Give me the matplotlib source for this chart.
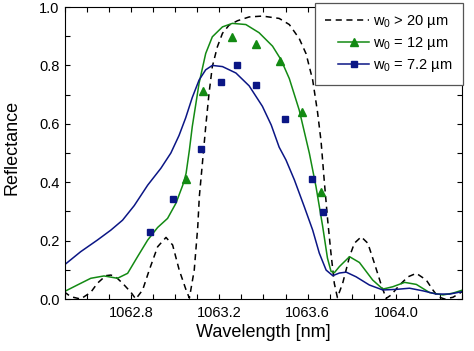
import matplotlib
matplotlib.use("Agg")
import matplotlib.pyplot as plt
from matplotlib.lines import Line2D
from matplotlib.legend_handler import HandlerLine2D
from matplotlib.ticker import MultipleLocator

plt.rcParams['font.family'] = ['Liberation Sans', 'DejaVu Sans']
plt.rcParams['mathtext.fontset'] = 'custom'
plt.rcParams['mathtext.rm'] = 'Liberation Sans'
plt.rcParams['mathtext.it'] = 'Liberation Sans:italic'

# ---- data ----
# w0 > 20 um (dashed)
wl_wide = [1062.496, 1062.526, 1062.571, 1062.617, 1062.647, 1062.685, 1062.708, 1062.730,
           1062.761, 1062.799, 1062.821, 1062.852, 1062.882, 1062.920, 1062.958, 1062.988,
           1063.018, 1063.049, 1063.064, 1063.086, 1063.102, 1063.109, 1063.123, 1063.138,
           1063.153, 1063.168, 1063.191, 1063.214, 1063.244, 1063.282, 1063.335, 1063.395,
           1063.471, 1063.517, 1063.562, 1063.593, 1063.623, 1063.645, 1063.661, 1063.676,
           1063.691, 1063.706, 1063.721, 1063.735, 1063.759, 1063.790, 1063.812, 1063.843,
           1063.873, 1063.903, 1063.934, 1063.956, 1063.979, 1064.017, 1064.055, 1064.093,
           1064.138, 1064.168, 1064.191, 1064.221, 1064.259, 1064.290, 1064.300]
r_wide = [0.025, 0.008, 0.0, 0.023, 0.054, 0.080, 0.082, 0.076,
          0.054, 0.023, 0.0, 0.031, 0.099, 0.179, 0.211, 0.185,
          0.099, 0.031, 0.003, 0.099, 0.248, 0.350, 0.465, 0.590,
          0.704, 0.796, 0.864, 0.910, 0.938, 0.953, 0.966, 0.969,
          0.961, 0.940, 0.892, 0.840, 0.750, 0.640, 0.540, 0.400,
          0.270, 0.156, 0.054, 0.005, 0.054, 0.145, 0.191, 0.213,
          0.191, 0.122, 0.048, 0.002, 0.014, 0.048, 0.076, 0.088,
          0.065, 0.031, 0.008, 0.0, 0.006, 0.020, 0.025]

# w0 = 12 um (green line)
wl_12 = [1062.496, 1062.556, 1062.617, 1062.677, 1062.738, 1062.784, 1062.829, 1062.875,
         1062.920, 1062.965, 1063.003, 1063.034, 1063.049, 1063.064, 1063.077, 1063.108,
         1063.138, 1063.168, 1063.214, 1063.259, 1063.320, 1063.380, 1063.441, 1063.479,
         1063.517, 1063.562, 1063.608, 1063.638, 1063.668, 1063.690, 1063.706, 1063.721,
         1063.744, 1063.790, 1063.835, 1063.895, 1063.941, 1063.986, 1064.040, 1064.093,
         1064.153, 1064.214, 1064.258, 1064.300]
r_12 = [0.025, 0.048, 0.071, 0.079, 0.071, 0.088, 0.145, 0.202,
        0.245, 0.276, 0.328, 0.390, 0.430, 0.510, 0.590, 0.739,
        0.841, 0.898, 0.932, 0.944, 0.940, 0.912, 0.866, 0.820,
        0.755, 0.647, 0.499, 0.385, 0.250, 0.140, 0.095, 0.090,
        0.111, 0.145, 0.125, 0.065, 0.034, 0.042, 0.057, 0.050,
        0.022, 0.014, 0.020, 0.030]

# w0 = 7.2 um (blue line)
wl_72 = [1062.496, 1062.571, 1062.647, 1062.708, 1062.761, 1062.814, 1062.875, 1062.935,
         1062.980, 1063.017, 1063.047, 1063.077, 1063.108, 1063.138, 1063.168, 1063.214,
         1063.275, 1063.335, 1063.395, 1063.435, 1063.471, 1063.502, 1063.540, 1063.585,
         1063.623, 1063.653, 1063.684, 1063.714, 1063.744, 1063.775, 1063.820, 1063.880,
         1063.941, 1064.002, 1064.062, 1064.123, 1064.184, 1064.244, 1064.300]
r_72 = [0.116, 0.162, 0.202, 0.236, 0.270, 0.320, 0.390, 0.448,
        0.500, 0.560, 0.620, 0.690, 0.750, 0.785, 0.800, 0.796,
        0.774, 0.730, 0.660, 0.596, 0.520, 0.476, 0.408, 0.316,
        0.236, 0.157, 0.099, 0.080, 0.089, 0.092, 0.076, 0.048,
        0.031, 0.033, 0.037, 0.028, 0.017, 0.017, 0.025]

# measured points
wl_tri = [1063.047, 1063.126, 1063.256, 1063.368, 1063.475, 1063.575, 1063.661]
r_tri = [0.411, 0.712, 0.896, 0.873, 0.816, 0.641, 0.367]
wl_sq = [1062.886, 1062.988, 1063.118, 1063.208, 1063.279, 1063.368, 1063.499, 1063.618, 1063.668]
r_sq = [0.228, 0.341, 0.513, 0.742, 0.801, 0.732, 0.617, 0.410, 0.298]

labels = [r'w$_0$ > 20 µm', r'w$_0$ = 12 µm', r'w$_0$ = 7.2 µm']

green = '#138a13'
navy = '#0b1685'


class MarkerLeftHandler(HandlerLine2D):
    # marker on the left, line on the right (Origin style legend)
    def get_xdata(self, legend, xdescent, ydescent, width, height, fontsize):
        x0 = -xdescent
        return [x0 + 0.3 * width, x0 + width], [x0 + 0.08 * width]


fig = plt.figure(figsize=(4.74, 3.51), dpi=100)
ax = fig.add_axes([0.1371, 0.1481, 0.8376, 0.8319])

ax.plot(wl_wide, r_wide, color='black', lw=1.1, ls=(0, (4, 3)))
ax.plot(wl_12, r_12, color=green, lw=1.1)
ax.plot(wl_72, r_72, color=navy, lw=1.1)
ax.plot(wl_tri, r_tri, ls='none', marker='^', ms=5.5, color=green)
ax.plot(wl_sq, r_sq, ls='none', marker='s', ms=4.2, color=navy)

ax.set_xlim(1062.5, 1064.3)
ax.set_ylim(0, 1.0)
ax.xaxis.set_major_locator(MultipleLocator(0.4))
ax.xaxis.set_minor_locator(MultipleLocator(0.1))
ax.yaxis.set_major_locator(MultipleLocator(0.2))
ax.yaxis.set_minor_locator(MultipleLocator(0.1))
ax.xaxis.set_major_formatter(plt.FormatStrFormatter('%.1f'))
ax.yaxis.set_major_formatter(plt.FormatStrFormatter('%.1f'))
ax.tick_params(which='both', direction='in', top=True, right=True, length=3.5, width=0.8)
ax.tick_params(axis='both', labelsize=10.5)
ax.tick_params(axis='x', pad=5)
ax.tick_params(axis='y', pad=4)
for s in ax.spines.values():
    s.set_linewidth(0.8)

ax.set_xlabel('Wavelength [nm]', fontsize=13)
ax.set_ylabel('Reflectance', fontsize=13)
ax.xaxis.set_label_coords(0.5, -0.085)
ax.yaxis.set_label_coords(-0.112, 0.52)

h_wide = Line2D([], [], color='black', lw=1.1, ls=(0, (4, 3)))
h_12 = Line2D([], [], color=green, lw=1.1, marker='^', ms=5.5)
h_72 = Line2D([], [], color=navy, lw=1.1, marker='s', ms=4.2)
leg = ax.legend([h_wide, h_12, h_72], labels, loc='upper right',
                bbox_to_anchor=(1.003, 1.014), borderaxespad=0, fontsize=10.5,
                handlelength=3.0, handletextpad=0.3, labelspacing=0.35,
                borderpad=0.7, fancybox=False, framealpha=1,
                handler_map={h_12: MarkerLeftHandler(), h_72: MarkerLeftHandler()})
leg.get_frame().set_edgecolor('#555555')
leg.get_frame().set_linewidth(0.9)

fig.savefig('out.png', dpi=100)
